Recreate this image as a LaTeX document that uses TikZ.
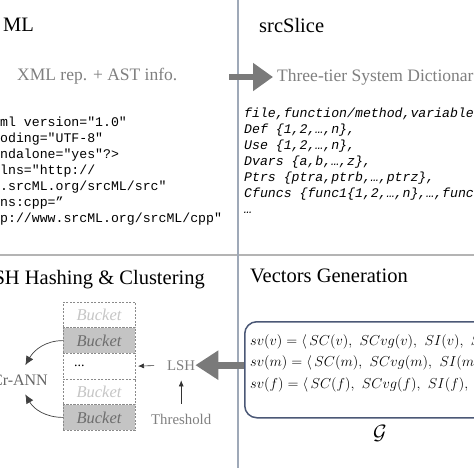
\documentclass[tikz,border=0pt]{standalone}
\usepackage{fontspec}
\setmainfont{Liberation Serif}
\setmonofont{Liberation Mono}
\usepackage{amsmath,amssymb}
\usetikzlibrary{positioning,calc,arrows.meta}

\definecolor{labelgray}{HTML}{7F7F7F}
\definecolor{arrowgray}{HTML}{7A7A7A}
\definecolor{bucketfill}{HTML}{C4C4C4}
\definecolor{bucketedge}{HTML}{8A8A8A}
\definecolor{bucketdark}{HTML}{6E6E6E}
\definecolor{bucketlight}{HTML}{C6C6C6}
\definecolor{boxblue}{HTML}{4B5876}
\definecolor{splitblue}{HTML}{9FA9B8}
\definecolor{splitgray}{HTML}{B4B4B4}

\newcommand{\vgap}{\hspace{5pt}}

\tikzset{
    heading/.style={anchor=base west, inner sep=0pt, font=\fontsize{20.5}{24}\selectfont},
    graylabel/.style={anchor=base west, inner sep=0pt, text=labelgray, font=\fontsize{17.5}{21}\selectfont},
    smalllabel/.style={inner sep=0pt, text=labelgray, font=\fontsize{14.8}{18}\selectfont},
    codeline/.style={anchor=base west, inner sep=0pt, font=\fontsize{13.2}{16}\selectfont\ttfamily},
    bucket/.style={draw=bucketedge, dash pattern=on 2pt off 1.5pt, line width=0.8pt,
        minimum width=72pt, minimum height=25.6pt, inner sep=0pt, outer sep=0pt,
        font=\fontsize{16.5}{19}\selectfont\itshape},
    fullbucket/.style={bucket, fill=bucketfill, text=bucketdark},
    emptybucket/.style={bucket, fill=white, text=bucketlight},
    vecbox/.style={draw=boxblue, line width=1.5pt, rounded corners=12pt,
        minimum width=300pt, minimum height=96pt, inner sep=0pt},
    mathline/.style={anchor=base west, inner sep=0pt, font=\fontsize{15}{18}\selectfont},
    fatarrow/.style={draw=arrowgray, line width=6pt, -{Triangle[length=20pt,width=27pt]}},
    thinarrow/.style={draw=black!80, line width=0.6pt, -{Latex[length=6pt,width=5pt]}},
    bendarrow/.style={draw=black!75, line width=0.7pt, -{Latex[length=9pt,width=8pt]}},
}

\begin{document}
\begin{tikzpicture}[x=1pt,y=-1pt]
    \useasboundingbox (0,0) rectangle (474,474);

    % Panel borders
    \draw[splitgray, line width=2pt] (0,255) -- (474,255);
    \draw[splitblue, line width=1.2pt] (238,0) -- (238,468);

    % XML
    \node[heading] (xmlhead) at (3,31) {ML};
    \node[graylabel] (xmlrep) at (17,80) {XML rep. + AST info.};
    \foreach \txt [count=\i] in {{ml version="1.0"}, {oding="UTF-8"}, {ndalone="yes"?>},
        {lns="http://}, {.srcML.org/srcML/src"}, {ns:cpp=”}, {p://www.srcML.org/srcML/cpp"}} {
        \node[codeline] (xml\i) at (0,{126.5+16*(\i-1)}) {\txt};
    }

    % srcSlice
    \node[heading] (slicehead) at (259,32) {srcSlice};
    \node[graylabel] (dict) at (277,81) {Three-tier System Dictionar};
    \coordinate (slicetail) at (229,77);
    \draw[fatarrow, shorten >=4pt] (slicetail) -- (dict.west |- slicetail);
    \foreach \txt [count=\i] in {{file,function/method,variable}, {Def \{1,2,…,n\},},
        {Use \{1,2,…,n\},}, {Dvars \{a,b,…,z\},}, {Ptrs \{ptra,ptrb,…,ptrz\},},
        {Cfuncs \{func1\{1,2,…,n\},…,func}, {…}} {
        \node[codeline, font=\fontsize{13.2}{16}\selectfont\ttfamily\itshape] (dict\i) at (244,{117.5+16*(\i-1)}) {\txt};
    }

    % Vectors Generation
    \node[heading] (vechead) at (250,282) {Vectors Generation};
    \node[vecbox, anchor=north west] (vecbox) at (244,321) {};
    \foreach \arg [count=\i] in {v,m,f} {
        \node[mathline] (sv\arg) at (250,{345+21.5*(\i-1)})
            {$sv(\arg)\;{=}\;\langle\, SC(\arg),\vgap SCvg(\arg),\vgap SI(\arg),\vgap S$};
    }
    \node[inner sep=0pt, font=\fontsize{20}{24}\selectfont] (calG) at (380,433) {$\mathcal{G}$};

    % LSH Hashing & Clustering
    \node[heading, anchor=base east] (lshhead) at (205,284) {SH Hashing \& Clustering};
    \node[emptybucket] (b1) at (99,315) {Bucket};
    \node[fullbucket, below=0pt of b1] (b2) {Bucket};
    \node[emptybucket, below=0pt of b2, text=black] (b3) {\makebox[50pt][l]{\upshape\fontsize{14}{16}\selectfont ...}};
    \node[emptybucket, below=0pt of b3] (b4) {Bucket};
    \node[fullbucket, below=0pt of b4] (b5) {Bucket};

    \node[smalllabel, anchor=base west] (lsh) at (167,370) {LSH};
    \node[smalllabel, anchor=base west] (thresh) at (151,424) {Threshold};
    \node[smalllabel, anchor=base east, inner ysep=9pt, text=black!60,
        font=\fontsize{16}{19}\selectfont] (crann) at (48,385) {Cr-ANN};

    \draw[fatarrow, line width=7pt, -{Triangle[length=23pt,width=28pt]}]
        (vecbox.west |- lsh.east) -- (lsh.east);
    \draw[thinarrow, shorten <=13pt, shorten >=3pt] (lsh.west) -- (b3.east);
    \draw[thinarrow, shorten <=10pt, shorten >=10pt] (thresh.north) -- (thresh.north |- lsh.south);
    \draw[bendarrow] (b2.west) to[out=180, in=60] (crann.70);
    \draw[bendarrow] (b5.west) to[out=180, in=-60] (crann.-70);

\end{tikzpicture}
\end{document}
